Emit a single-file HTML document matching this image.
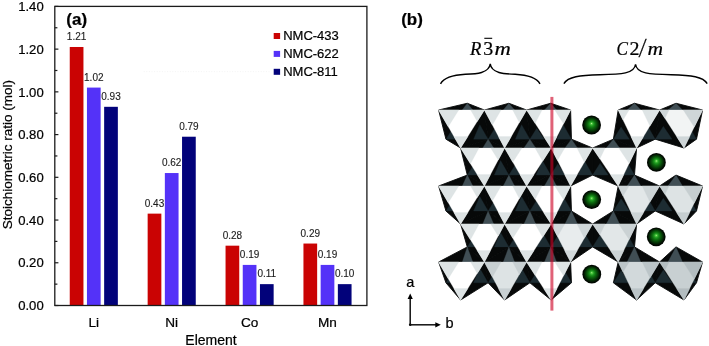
<!DOCTYPE html>
<html><head><meta charset="utf-8"><title>NMC figure</title>
<style>html,body{margin:0;padding:0;background:#fff;overflow:hidden}svg{display:block} text{stroke:#000;stroke-width:0.22px;paint-order:stroke} text.v{stroke:#222;stroke-width:0.12px}</style>
</head><body>
<svg width="709" height="346" viewBox="0 0 709 346"><defs><radialGradient id="gs" cx="0.5" cy="0.5" r="0.5" fx="0.5" fy="0.42">
<stop offset="0" stop-color="#c0f5a0"/><stop offset="0.08" stop-color="#56cc46"/><stop offset="0.22" stop-color="#1e9c20"/><stop offset="0.4" stop-color="#0e7010"/><stop offset="0.58" stop-color="#074a09"/><stop offset="0.75" stop-color="#032604"/><stop offset="0.88" stop-color="#010c01"/><stop offset="1" stop-color="#000200"/></radialGradient></defs>
<rect x="69.75" y="46.99" width="13.7" height="258.51" fill="#ca0303"/>
<text x="76.60" y="40.19" class="v" font-size="10" fill="#1a1a1a" text-anchor="middle" font-family="Liberation Sans, Arial, sans-serif">1.21</text>
<rect x="86.95" y="87.58" width="13.7" height="217.92" fill="#5432f8"/>
<text x="93.80" y="80.78" class="v" font-size="10" fill="#1a1a1a" text-anchor="middle" font-family="Liberation Sans, Arial, sans-serif">1.02</text>
<rect x="104.15" y="106.81" width="13.7" height="198.69" fill="#02027a"/>
<text x="111.00" y="100.01" class="v" font-size="10" fill="#1a1a1a" text-anchor="middle" font-family="Liberation Sans, Arial, sans-serif">0.93</text>
<text x="93.80" y="326.8" font-size="13.6" fill="#000" text-anchor="middle" font-family="Liberation Sans, Arial, sans-serif">Li</text>
<rect x="147.65" y="213.63" width="13.7" height="91.87" fill="#ca0303"/>
<text x="154.50" y="206.83" class="v" font-size="10" fill="#1a1a1a" text-anchor="middle" font-family="Liberation Sans, Arial, sans-serif">0.43</text>
<rect x="164.85" y="173.04" width="13.7" height="132.46" fill="#5432f8"/>
<text x="171.70" y="166.24" class="v" font-size="10" fill="#1a1a1a" text-anchor="middle" font-family="Liberation Sans, Arial, sans-serif">0.62</text>
<rect x="182.05" y="136.72" width="13.7" height="168.78" fill="#02027a"/>
<text x="188.90" y="129.92" class="v" font-size="10" fill="#1a1a1a" text-anchor="middle" font-family="Liberation Sans, Arial, sans-serif">0.79</text>
<text x="171.70" y="326.8" font-size="13.6" fill="#000" text-anchor="middle" font-family="Liberation Sans, Arial, sans-serif">Ni</text>
<rect x="225.55" y="245.68" width="13.7" height="59.82" fill="#ca0303"/>
<text x="232.40" y="238.88" class="v" font-size="10" fill="#1a1a1a" text-anchor="middle" font-family="Liberation Sans, Arial, sans-serif">0.28</text>
<rect x="242.75" y="264.91" width="13.7" height="40.59" fill="#5432f8"/>
<text x="249.60" y="258.11" class="v" font-size="10" fill="#1a1a1a" text-anchor="middle" font-family="Liberation Sans, Arial, sans-serif">0.19</text>
<rect x="259.95" y="284.14" width="13.7" height="21.36" fill="#02027a"/>
<text x="266.80" y="277.34" class="v" font-size="10" fill="#1a1a1a" text-anchor="middle" font-family="Liberation Sans, Arial, sans-serif">0.11</text>
<text x="249.60" y="326.8" font-size="13.6" fill="#000" text-anchor="middle" font-family="Liberation Sans, Arial, sans-serif">Co</text>
<rect x="303.45" y="243.54" width="13.7" height="61.96" fill="#ca0303"/>
<text x="310.30" y="236.74" class="v" font-size="10" fill="#1a1a1a" text-anchor="middle" font-family="Liberation Sans, Arial, sans-serif">0.29</text>
<rect x="320.65" y="264.91" width="13.7" height="40.59" fill="#5432f8"/>
<text x="327.50" y="258.11" class="v" font-size="10" fill="#1a1a1a" text-anchor="middle" font-family="Liberation Sans, Arial, sans-serif">0.19</text>
<rect x="337.85" y="284.14" width="13.7" height="21.36" fill="#02027a"/>
<text x="344.70" y="277.34" class="v" font-size="10" fill="#1a1a1a" text-anchor="middle" font-family="Liberation Sans, Arial, sans-serif">0.10</text>
<text x="327.50" y="326.8" font-size="13.6" fill="#000" text-anchor="middle" font-family="Liberation Sans, Arial, sans-serif">Mn</text>
<rect x="54.8" y="6.4" width="312.10" height="299.10" fill="none" stroke="#1b1b1b" stroke-width="1.3"/>
<line x1="54.8" y1="305.50" x2="58.4" y2="305.50" stroke="#1b1b1b" stroke-width="1.2"/>
<text x="43.7" y="310.20" font-size="13.1" fill="#000" text-anchor="end" font-family="Liberation Sans, Arial, sans-serif">0.00</text>
<line x1="54.8" y1="284.14" x2="57.4" y2="284.14" stroke="#1b1b1b" stroke-width="1.2"/>
<line x1="54.8" y1="262.77" x2="58.4" y2="262.77" stroke="#1b1b1b" stroke-width="1.2"/>
<text x="43.7" y="267.47" font-size="13.1" fill="#000" text-anchor="end" font-family="Liberation Sans, Arial, sans-serif">0.20</text>
<line x1="54.8" y1="241.41" x2="57.4" y2="241.41" stroke="#1b1b1b" stroke-width="1.2"/>
<line x1="54.8" y1="220.04" x2="58.4" y2="220.04" stroke="#1b1b1b" stroke-width="1.2"/>
<text x="43.7" y="224.74" font-size="13.1" fill="#000" text-anchor="end" font-family="Liberation Sans, Arial, sans-serif">0.40</text>
<line x1="54.8" y1="198.68" x2="57.4" y2="198.68" stroke="#1b1b1b" stroke-width="1.2"/>
<line x1="54.8" y1="177.31" x2="58.4" y2="177.31" stroke="#1b1b1b" stroke-width="1.2"/>
<text x="43.7" y="182.01" font-size="13.1" fill="#000" text-anchor="end" font-family="Liberation Sans, Arial, sans-serif">0.60</text>
<line x1="54.8" y1="155.95" x2="57.4" y2="155.95" stroke="#1b1b1b" stroke-width="1.2"/>
<line x1="54.8" y1="134.59" x2="58.4" y2="134.59" stroke="#1b1b1b" stroke-width="1.2"/>
<text x="43.7" y="139.29" font-size="13.1" fill="#000" text-anchor="end" font-family="Liberation Sans, Arial, sans-serif">0.80</text>
<line x1="54.8" y1="113.22" x2="57.4" y2="113.22" stroke="#1b1b1b" stroke-width="1.2"/>
<line x1="54.8" y1="91.86" x2="58.4" y2="91.86" stroke="#1b1b1b" stroke-width="1.2"/>
<text x="43.7" y="96.56" font-size="13.1" fill="#000" text-anchor="end" font-family="Liberation Sans, Arial, sans-serif">1.00</text>
<line x1="54.8" y1="70.49" x2="57.4" y2="70.49" stroke="#1b1b1b" stroke-width="1.2"/>
<line x1="54.8" y1="49.13" x2="58.4" y2="49.13" stroke="#1b1b1b" stroke-width="1.2"/>
<text x="43.7" y="53.83" font-size="13.1" fill="#000" text-anchor="end" font-family="Liberation Sans, Arial, sans-serif">1.20</text>
<line x1="54.8" y1="27.76" x2="57.4" y2="27.76" stroke="#1b1b1b" stroke-width="1.2"/>
<line x1="54.8" y1="6.40" x2="58.4" y2="6.40" stroke="#1b1b1b" stroke-width="1.2"/>
<text x="43.7" y="11.10" font-size="13.1" fill="#000" text-anchor="end" font-family="Liberation Sans, Arial, sans-serif">1.40</text>
<text x="211" y="345.0" font-size="14" fill="#000" text-anchor="middle" font-family="Liberation Sans, Arial, sans-serif">Element</text>
<text transform="translate(11.8,154.7) rotate(-90)" font-size="13.5" fill="#000" text-anchor="middle" font-family="Liberation Sans, Arial, sans-serif">Stoichiometric ratio (mol)</text>
<text x="66.3" y="25.4" font-size="17" font-weight="bold" fill="#000" font-family="Liberation Sans, Arial, sans-serif">(a)</text>
<line x1="143.7" y1="71.6" x2="270.7" y2="71.6" stroke="#f1f1f1" stroke-width="0.8" stroke-dasharray="1 1.6"/>
<rect x="273.7" y="33.00" width="6.4" height="6.0" fill="#ca0303"/>
<text x="283.2" y="39.80" font-size="13" fill="#000" font-family="Liberation Sans, Arial, sans-serif">NMC-433</text>
<rect x="273.7" y="50.90" width="6.4" height="6.0" fill="#5432f8"/>
<text x="283.2" y="57.70" font-size="13" fill="#000" font-family="Liberation Sans, Arial, sans-serif">NMC-622</text>
<rect x="273.7" y="68.80" width="6.4" height="6.0" fill="#02027a"/>
<text x="283.2" y="75.60" font-size="13" fill="#000" font-family="Liberation Sans, Arial, sans-serif">NMC-811</text>
<polygon points="438.60,110.00 467.29,103.25 484.40,110.00 488.08,139.17 460.60,148.00 445.94,139.17" fill="#070909" stroke="#070909" stroke-width="0.9" stroke-linejoin="round"/>
<polygon points="484.40,110.00 508.87,103.25 526.60,110.00 529.88,139.17 504.60,148.00 488.08,139.17" fill="#070909" stroke="#070909" stroke-width="0.9" stroke-linejoin="round"/>
<polygon points="526.60,110.00 550.67,103.25 570.60,110.00 571.46,139.17 551.10,148.00 529.88,139.17" fill="#070909" stroke="#070909" stroke-width="0.9" stroke-linejoin="round"/>
<polygon points="618.20,110.00 634.50,103.25 659.60,110.00 655.22,139.17 636.60,148.00 613.39,139.17" fill="#070909" stroke="#070909" stroke-width="0.9" stroke-linejoin="round"/>
<polygon points="659.60,110.00 676.01,103.25 702.60,110.00 696.49,139.17 684.00,148.00 655.22,139.17" fill="#070909" stroke="#070909" stroke-width="0.9" stroke-linejoin="round"/>
<polygon points="460.60,148.00 488.08,139.17 504.60,148.00 508.87,175.08 484.40,186.00 467.29,175.08" fill="#070909" stroke="#070909" stroke-width="0.9" stroke-linejoin="round"/>
<polygon points="504.60,148.00 529.88,139.17 551.10,148.00 550.67,175.08 526.60,186.00 508.87,175.08" fill="#070909" stroke="#070909" stroke-width="0.9" stroke-linejoin="round"/>
<polygon points="551.10,148.00 571.46,139.17 592.60,148.00 592.60,175.08 570.60,186.00 550.67,175.08" fill="#070909" stroke="#070909" stroke-width="0.9" stroke-linejoin="round"/>
<polygon points="592.60,148.00 613.39,139.17 636.60,148.00 634.50,175.08 618.20,186.00 592.60,175.08" fill="#070909" stroke="#070909" stroke-width="0.9" stroke-linejoin="round"/>
<polygon points="438.60,186.00 467.29,175.08 484.40,186.00 488.08,210.99 460.60,224.00 445.94,210.99" fill="#070909" stroke="#070909" stroke-width="0.9" stroke-linejoin="round"/>
<polygon points="484.40,186.00 508.87,175.08 526.60,186.00 529.88,210.99 504.60,224.00 488.08,210.99" fill="#070909" stroke="#070909" stroke-width="0.9" stroke-linejoin="round"/>
<polygon points="526.60,186.00 550.67,175.08 570.60,186.00 571.46,210.99 551.10,224.00 529.88,210.99" fill="#070909" stroke="#070909" stroke-width="0.9" stroke-linejoin="round"/>
<polygon points="618.20,186.00 634.50,175.08 659.60,186.00 655.22,210.99 636.60,224.00 613.39,210.99" fill="#070909" stroke="#070909" stroke-width="0.9" stroke-linejoin="round"/>
<polygon points="659.60,186.00 676.01,175.08 702.60,186.00 696.49,210.99 684.00,224.00 655.22,210.99" fill="#070909" stroke="#070909" stroke-width="0.9" stroke-linejoin="round"/>
<polygon points="460.60,224.00 488.08,210.99 504.60,224.00 508.87,246.90 484.40,262.00 467.29,246.90" fill="#070909" stroke="#070909" stroke-width="0.9" stroke-linejoin="round"/>
<polygon points="504.60,224.00 529.88,210.99 551.10,224.00 550.67,246.90 526.60,262.00 508.87,246.90" fill="#070909" stroke="#070909" stroke-width="0.9" stroke-linejoin="round"/>
<polygon points="551.10,224.00 571.46,210.99 592.60,224.00 592.60,246.90 570.60,262.00 550.67,246.90" fill="#070909" stroke="#070909" stroke-width="0.9" stroke-linejoin="round"/>
<polygon points="592.60,224.00 613.39,210.99 636.60,224.00 634.50,246.90 618.20,262.00 592.60,246.90" fill="#070909" stroke="#070909" stroke-width="0.9" stroke-linejoin="round"/>
<polygon points="438.60,262.00 467.29,246.90 484.40,262.00 488.08,282.80 460.60,300.00 445.94,282.80" fill="#070909" stroke="#070909" stroke-width="0.9" stroke-linejoin="round"/>
<polygon points="484.40,262.00 508.87,246.90 526.60,262.00 529.88,282.80 504.60,300.00 488.08,282.80" fill="#070909" stroke="#070909" stroke-width="0.9" stroke-linejoin="round"/>
<polygon points="526.60,262.00 550.67,246.90 570.60,262.00 571.46,282.80 551.10,300.00 529.88,282.80" fill="#070909" stroke="#070909" stroke-width="0.9" stroke-linejoin="round"/>
<polygon points="618.20,262.00 634.50,246.90 659.60,262.00 655.22,282.80 636.60,300.00 613.39,282.80" fill="#070909" stroke="#070909" stroke-width="0.9" stroke-linejoin="round"/>
<polygon points="659.60,262.00 676.01,246.90 702.60,262.00 696.49,282.80 684.00,300.00 655.22,282.80" fill="#070909" stroke="#070909" stroke-width="0.9" stroke-linejoin="round"/>
<polygon points="467.29,103.25 462.29,110.00 472.80,110.00" fill="#404e54" stroke="#404e54" stroke-width="0.3" stroke-linejoin="round"/>
<polygon points="445.94,139.17 458.45,139.17 451.94,129.66" fill="#1d2c32" stroke="#1d2c32" stroke-width="0.3" stroke-linejoin="round"/>
<polygon points="488.08,139.17 473.58,139.17 479.78,124.67" fill="#1d2c32" stroke="#1d2c32" stroke-width="0.3" stroke-linejoin="round"/>
<polygon points="438.60,110.00 484.40,110.00 460.60,148.00" fill="#ffffff" stroke="#ffffff" stroke-width="0.3" stroke-linejoin="round"/>
<polygon points="438.60,110.00 458.72,110.00 448.27,126.70" fill="#dee4e5" stroke="#dee4e5" stroke-width="0.3" stroke-linejoin="round"/>
<polygon points="484.40,110.00 470.64,110.00 477.25,121.42" fill="#dee4e5" stroke="#dee4e5" stroke-width="0.3" stroke-linejoin="round"/>
<polygon points="460.60,148.00 454.00,136.60 467.74,136.60" fill="#dee4e5" stroke="#dee4e5" stroke-width="0.3" stroke-linejoin="round"/>
<polygon points="508.87,103.25 503.27,110.00 514.58,110.00" fill="#404e54" stroke="#404e54" stroke-width="0.3" stroke-linejoin="round"/>
<polygon points="488.08,139.17 501.47,139.17 494.51,128.99" fill="#1d2c32" stroke="#1d2c32" stroke-width="0.3" stroke-linejoin="round"/>
<polygon points="529.88,139.17 515.38,139.17 521.58,124.67" fill="#1d2c32" stroke="#1d2c32" stroke-width="0.3" stroke-linejoin="round"/>
<polygon points="484.40,110.00 526.60,110.00 504.60,148.00" fill="#ffffff" stroke="#ffffff" stroke-width="0.3" stroke-linejoin="round"/>
<polygon points="484.40,110.00 501.09,110.00 492.39,125.03" fill="#dee4e5" stroke="#dee4e5" stroke-width="0.3" stroke-linejoin="round"/>
<polygon points="526.60,110.00 512.66,110.00 519.33,122.56" fill="#dee4e5" stroke="#dee4e5" stroke-width="0.3" stroke-linejoin="round"/>
<polygon points="504.60,148.00 498.54,136.60 511.20,136.60" fill="#dee4e5" stroke="#dee4e5" stroke-width="0.3" stroke-linejoin="round"/>
<polygon points="550.67,103.25 544.47,110.00 556.58,110.00" fill="#404e54" stroke="#404e54" stroke-width="0.3" stroke-linejoin="round"/>
<polygon points="529.88,139.17 544.15,139.17 536.73,128.33" fill="#1d2c32" stroke="#1d2c32" stroke-width="0.3" stroke-linejoin="round"/>
<polygon points="571.46,139.17 556.96,139.17 563.16,124.67" fill="#1d2c32" stroke="#1d2c32" stroke-width="0.3" stroke-linejoin="round"/>
<polygon points="526.60,110.00 570.60,110.00 551.10,148.00" fill="#ffffff" stroke="#ffffff" stroke-width="0.3" stroke-linejoin="round"/>
<polygon points="526.60,110.00 542.06,110.00 535.21,123.35" fill="#dee4e5" stroke="#dee4e5" stroke-width="0.3" stroke-linejoin="round"/>
<polygon points="570.60,110.00 554.74,110.00 563.57,123.70" fill="#dee4e5" stroke="#dee4e5" stroke-width="0.3" stroke-linejoin="round"/>
<polygon points="551.10,148.00 543.75,136.60 556.95,136.60" fill="#dee4e5" stroke="#dee4e5" stroke-width="0.3" stroke-linejoin="round"/>
<polygon points="634.50,103.25 627.09,110.00 640.80,110.00" fill="#404e54" stroke="#404e54" stroke-width="0.3" stroke-linejoin="round"/>
<polygon points="613.39,139.17 629.40,139.17 621.08,127.00" fill="#1d2c32" stroke="#1d2c32" stroke-width="0.3" stroke-linejoin="round"/>
<polygon points="655.22,139.17 640.72,139.17 646.92,124.67" fill="#1d2c32" stroke="#1d2c32" stroke-width="0.3" stroke-linejoin="round"/>
<polygon points="618.20,110.00 659.60,110.00 636.60,148.00" fill="#ffffff" stroke="#ffffff" stroke-width="0.3" stroke-linejoin="round"/>
<polygon points="618.20,110.00 629.10,110.00 623.05,120.01" fill="#dee4e5" stroke="#dee4e5" stroke-width="0.3" stroke-linejoin="round"/>
<polygon points="659.60,110.00 642.20,110.00 649.93,125.98" fill="#dee4e5" stroke="#dee4e5" stroke-width="0.3" stroke-linejoin="round"/>
<polygon points="636.60,148.00 631.08,136.60 643.50,136.60" fill="#dee4e5" stroke="#dee4e5" stroke-width="0.3" stroke-linejoin="round"/>
<polygon points="676.01,103.25 668.01,110.00 682.51,110.00" fill="#404e54" stroke="#404e54" stroke-width="0.3" stroke-linejoin="round"/>
<polygon points="655.22,139.17 672.10,139.17 663.32,126.34" fill="#1d2c32" stroke="#1d2c32" stroke-width="0.3" stroke-linejoin="round"/>
<polygon points="696.49,139.17 681.99,139.17 688.19,124.67" fill="#1d2c32" stroke="#1d2c32" stroke-width="0.3" stroke-linejoin="round"/>
<polygon points="659.60,110.00 702.60,110.00 684.00,148.00" fill="#f2f4f4" stroke="#f2f4f4" stroke-width="0.3" stroke-linejoin="round"/>
<polygon points="659.60,110.00 669.06,110.00 664.97,118.36" fill="#cfd6d8" stroke="#cfd6d8" stroke-width="0.3" stroke-linejoin="round"/>
<polygon points="702.60,110.00 683.25,110.00 694.23,127.10" fill="#cfd6d8" stroke="#cfd6d8" stroke-width="0.3" stroke-linejoin="round"/>
<polygon points="684.00,148.00 676.68,136.60 689.58,136.60" fill="#cfd6d8" stroke="#cfd6d8" stroke-width="0.3" stroke-linejoin="round"/>
<polygon points="488.08,139.17 482.78,148.00 493.69,148.00" fill="#404e54" stroke="#404e54" stroke-width="0.3" stroke-linejoin="round"/>
<polygon points="467.29,175.08 480.24,175.08 473.51,165.23" fill="#1d2c32" stroke="#1d2c32" stroke-width="0.3" stroke-linejoin="round"/>
<polygon points="508.87,175.08 494.37,175.08 500.57,160.58" fill="#1d2c32" stroke="#1d2c32" stroke-width="0.3" stroke-linejoin="round"/>
<polygon points="460.60,148.00 504.60,148.00 484.40,186.00" fill="#ffffff" stroke="#ffffff" stroke-width="0.3" stroke-linejoin="round"/>
<polygon points="460.60,148.00 478.97,148.00 470.53,163.86" fill="#dee4e5" stroke="#dee4e5" stroke-width="0.3" stroke-linejoin="round"/>
<polygon points="504.60,148.00 490.72,148.00 498.23,159.99" fill="#dee4e5" stroke="#dee4e5" stroke-width="0.3" stroke-linejoin="round"/>
<polygon points="484.40,186.00 477.26,174.60 490.46,174.60" fill="#dee4e5" stroke="#dee4e5" stroke-width="0.3" stroke-linejoin="round"/>
<polygon points="529.88,139.17 523.98,148.00 535.69,148.00" fill="#404e54" stroke="#404e54" stroke-width="0.3" stroke-linejoin="round"/>
<polygon points="508.87,175.08 522.70,175.08 515.51,164.57" fill="#1d2c32" stroke="#1d2c32" stroke-width="0.3" stroke-linejoin="round"/>
<polygon points="550.67,175.08 536.17,175.08 542.37,160.58" fill="#1d2c32" stroke="#1d2c32" stroke-width="0.3" stroke-linejoin="round"/>
<polygon points="504.60,148.00 551.10,148.00 526.60,186.00" fill="#ffffff" stroke="#ffffff" stroke-width="0.3" stroke-linejoin="round"/>
<polygon points="504.60,148.00 521.96,148.00 512.81,162.19" fill="#dee4e5" stroke="#dee4e5" stroke-width="0.3" stroke-linejoin="round"/>
<polygon points="551.10,148.00 535.04,148.00 542.64,161.13" fill="#dee4e5" stroke="#dee4e5" stroke-width="0.3" stroke-linejoin="round"/>
<polygon points="526.60,186.00 520.00,174.60 533.95,174.60" fill="#dee4e5" stroke="#dee4e5" stroke-width="0.3" stroke-linejoin="round"/>
<polygon points="571.46,139.17 564.96,148.00 577.47,148.00" fill="#404e54" stroke="#404e54" stroke-width="0.3" stroke-linejoin="round"/>
<polygon points="550.67,175.08 565.37,175.08 557.73,163.90" fill="#1d2c32" stroke="#1d2c32" stroke-width="0.3" stroke-linejoin="round"/>
<polygon points="592.60,175.08 578.10,175.08 584.30,160.58" fill="#1d2c32" stroke="#1d2c32" stroke-width="0.3" stroke-linejoin="round"/>
<polygon points="551.10,148.00 592.60,148.00 570.60,186.00" fill="#ffffff" stroke="#ffffff" stroke-width="0.3" stroke-linejoin="round"/>
<polygon points="551.10,148.00 564.77,148.00 557.52,160.52" fill="#dee4e5" stroke="#dee4e5" stroke-width="0.3" stroke-linejoin="round"/>
<polygon points="592.60,148.00 577.02,148.00 584.34,162.27" fill="#dee4e5" stroke="#dee4e5" stroke-width="0.3" stroke-linejoin="round"/>
<polygon points="570.60,186.00 564.75,174.60 577.20,174.60" fill="#dee4e5" stroke="#dee4e5" stroke-width="0.3" stroke-linejoin="round"/>
<polygon points="613.39,139.17 606.28,148.00 619.59,148.00" fill="#404e54" stroke="#404e54" stroke-width="0.3" stroke-linejoin="round"/>
<polygon points="592.60,175.08 608.18,175.08 600.08,163.24" fill="#1d2c32" stroke="#1d2c32" stroke-width="0.3" stroke-linejoin="round"/>
<polygon points="634.50,175.08 620.00,175.08 626.20,160.58" fill="#1d2c32" stroke="#1d2c32" stroke-width="0.3" stroke-linejoin="round"/>
<polygon points="592.60,148.00 636.60,148.00 618.20,186.00" fill="#ffffff" stroke="#ffffff" stroke-width="0.3" stroke-linejoin="round"/>
<polygon points="592.60,148.00 605.16,148.00 599.91,158.85" fill="#dee4e5" stroke="#dee4e5" stroke-width="0.3" stroke-linejoin="round"/>
<polygon points="636.60,148.00 618.76,148.00 629.14,163.41" fill="#dee4e5" stroke="#dee4e5" stroke-width="0.3" stroke-linejoin="round"/>
<polygon points="618.20,186.00 610.52,174.60 623.72,174.60" fill="#dee4e5" stroke="#dee4e5" stroke-width="0.3" stroke-linejoin="round"/>
<polygon points="467.29,175.08 462.29,186.00 472.80,186.00" fill="#404e54" stroke="#404e54" stroke-width="0.3" stroke-linejoin="round"/>
<polygon points="445.94,210.99 458.45,210.99 451.94,201.48" fill="#1d2c32" stroke="#1d2c32" stroke-width="0.3" stroke-linejoin="round"/>
<polygon points="488.08,210.99 473.58,210.99 479.78,196.49" fill="#1d2c32" stroke="#1d2c32" stroke-width="0.3" stroke-linejoin="round"/>
<polygon points="438.60,186.00 484.40,186.00 460.60,224.00" fill="#ffffff" stroke="#ffffff" stroke-width="0.3" stroke-linejoin="round"/>
<polygon points="438.60,186.00 458.72,186.00 448.27,202.70" fill="#dee4e5" stroke="#dee4e5" stroke-width="0.3" stroke-linejoin="round"/>
<polygon points="484.40,186.00 470.64,186.00 477.25,197.42" fill="#dee4e5" stroke="#dee4e5" stroke-width="0.3" stroke-linejoin="round"/>
<polygon points="460.60,224.00 454.00,212.60 467.74,212.60" fill="#dee4e5" stroke="#dee4e5" stroke-width="0.3" stroke-linejoin="round"/>
<polygon points="508.87,175.08 503.27,186.00 514.58,186.00" fill="#404e54" stroke="#404e54" stroke-width="0.3" stroke-linejoin="round"/>
<polygon points="488.08,210.99 501.47,210.99 494.51,200.81" fill="#1d2c32" stroke="#1d2c32" stroke-width="0.3" stroke-linejoin="round"/>
<polygon points="529.88,210.99 515.38,210.99 521.58,196.49" fill="#1d2c32" stroke="#1d2c32" stroke-width="0.3" stroke-linejoin="round"/>
<polygon points="484.40,186.00 526.60,186.00 504.60,224.00" fill="#ffffff" stroke="#ffffff" stroke-width="0.3" stroke-linejoin="round"/>
<polygon points="484.40,186.00 501.09,186.00 492.39,201.03" fill="#dee4e5" stroke="#dee4e5" stroke-width="0.3" stroke-linejoin="round"/>
<polygon points="526.60,186.00 512.66,186.00 519.33,198.56" fill="#dee4e5" stroke="#dee4e5" stroke-width="0.3" stroke-linejoin="round"/>
<polygon points="504.60,224.00 498.54,212.60 511.20,212.60" fill="#dee4e5" stroke="#dee4e5" stroke-width="0.3" stroke-linejoin="round"/>
<polygon points="550.67,175.08 544.47,186.00 556.58,186.00" fill="#404e54" stroke="#404e54" stroke-width="0.3" stroke-linejoin="round"/>
<polygon points="529.88,210.99 544.15,210.99 536.73,200.15" fill="#1d2c32" stroke="#1d2c32" stroke-width="0.3" stroke-linejoin="round"/>
<polygon points="571.46,210.99 556.96,210.99 563.16,196.49" fill="#1d2c32" stroke="#1d2c32" stroke-width="0.3" stroke-linejoin="round"/>
<polygon points="526.60,186.00 570.60,186.00 551.10,224.00" fill="#ffffff" stroke="#ffffff" stroke-width="0.3" stroke-linejoin="round"/>
<polygon points="526.60,186.00 542.06,186.00 535.21,199.35" fill="#dee4e5" stroke="#dee4e5" stroke-width="0.3" stroke-linejoin="round"/>
<polygon points="570.60,186.00 554.74,186.00 563.57,199.70" fill="#dee4e5" stroke="#dee4e5" stroke-width="0.3" stroke-linejoin="round"/>
<polygon points="551.10,224.00 543.75,212.60 556.95,212.60" fill="#dee4e5" stroke="#dee4e5" stroke-width="0.3" stroke-linejoin="round"/>
<polygon points="634.50,175.08 627.09,186.00 640.80,186.00" fill="#404e54" stroke="#404e54" stroke-width="0.3" stroke-linejoin="round"/>
<polygon points="613.39,210.99 629.40,210.99 621.08,198.82" fill="#1d2c32" stroke="#1d2c32" stroke-width="0.3" stroke-linejoin="round"/>
<polygon points="655.22,210.99 640.72,210.99 646.92,196.49" fill="#1d2c32" stroke="#1d2c32" stroke-width="0.3" stroke-linejoin="round"/>
<polygon points="618.20,186.00 659.60,186.00 636.60,224.00" fill="#e2e7e8" stroke="#e2e7e8" stroke-width="0.3" stroke-linejoin="round"/>
<polygon points="618.20,186.00 629.10,186.00 623.05,196.01" fill="#cdd4d6" stroke="#cdd4d6" stroke-width="0.3" stroke-linejoin="round"/>
<polygon points="659.60,186.00 642.20,186.00 649.93,201.98" fill="#cdd4d6" stroke="#cdd4d6" stroke-width="0.3" stroke-linejoin="round"/>
<polygon points="636.60,224.00 631.08,212.60 643.50,212.60" fill="#cdd4d6" stroke="#cdd4d6" stroke-width="0.3" stroke-linejoin="round"/>
<polygon points="676.01,175.08 668.01,186.00 682.51,186.00" fill="#404e54" stroke="#404e54" stroke-width="0.3" stroke-linejoin="round"/>
<polygon points="655.22,210.99 672.10,210.99 663.32,198.16" fill="#1d2c32" stroke="#1d2c32" stroke-width="0.3" stroke-linejoin="round"/>
<polygon points="696.49,210.99 681.99,210.99 688.19,196.49" fill="#1d2c32" stroke="#1d2c32" stroke-width="0.3" stroke-linejoin="round"/>
<polygon points="659.60,186.00 702.60,186.00 684.00,224.00" fill="#dde3e4" stroke="#dde3e4" stroke-width="0.3" stroke-linejoin="round"/>
<polygon points="659.60,186.00 669.06,186.00 664.97,194.36" fill="#c6ced0" stroke="#c6ced0" stroke-width="0.3" stroke-linejoin="round"/>
<polygon points="702.60,186.00 683.25,186.00 694.23,203.10" fill="#c6ced0" stroke="#c6ced0" stroke-width="0.3" stroke-linejoin="round"/>
<polygon points="684.00,224.00 676.68,212.60 689.58,212.60" fill="#c6ced0" stroke="#c6ced0" stroke-width="0.3" stroke-linejoin="round"/>
<polygon points="488.08,210.99 482.78,224.00 493.69,224.00" fill="#404e54" stroke="#404e54" stroke-width="0.3" stroke-linejoin="round"/>
<polygon points="467.29,246.90 480.24,246.90 473.51,237.05" fill="#1d2c32" stroke="#1d2c32" stroke-width="0.3" stroke-linejoin="round"/>
<polygon points="508.87,246.90 494.37,246.90 500.57,232.40" fill="#1d2c32" stroke="#1d2c32" stroke-width="0.3" stroke-linejoin="round"/>
<polygon points="460.60,224.00 504.60,224.00 484.40,262.00" fill="#ffffff" stroke="#ffffff" stroke-width="0.3" stroke-linejoin="round"/>
<polygon points="460.60,224.00 478.97,224.00 470.53,239.86" fill="#dee4e5" stroke="#dee4e5" stroke-width="0.3" stroke-linejoin="round"/>
<polygon points="504.60,224.00 490.72,224.00 498.23,235.99" fill="#dee4e5" stroke="#dee4e5" stroke-width="0.3" stroke-linejoin="round"/>
<polygon points="484.40,262.00 477.26,250.60 490.46,250.60" fill="#dee4e5" stroke="#dee4e5" stroke-width="0.3" stroke-linejoin="round"/>
<polygon points="529.88,210.99 523.98,224.00 535.69,224.00" fill="#404e54" stroke="#404e54" stroke-width="0.3" stroke-linejoin="round"/>
<polygon points="508.87,246.90 522.70,246.90 515.51,236.39" fill="#1d2c32" stroke="#1d2c32" stroke-width="0.3" stroke-linejoin="round"/>
<polygon points="550.67,246.90 536.17,246.90 542.37,232.40" fill="#1d2c32" stroke="#1d2c32" stroke-width="0.3" stroke-linejoin="round"/>
<polygon points="504.60,224.00 551.10,224.00 526.60,262.00" fill="#ffffff" stroke="#ffffff" stroke-width="0.3" stroke-linejoin="round"/>
<polygon points="504.60,224.00 521.96,224.00 512.81,238.19" fill="#dee4e5" stroke="#dee4e5" stroke-width="0.3" stroke-linejoin="round"/>
<polygon points="551.10,224.00 535.04,224.00 542.64,237.13" fill="#dee4e5" stroke="#dee4e5" stroke-width="0.3" stroke-linejoin="round"/>
<polygon points="526.60,262.00 520.00,250.60 533.95,250.60" fill="#dee4e5" stroke="#dee4e5" stroke-width="0.3" stroke-linejoin="round"/>
<polygon points="571.46,210.99 564.96,224.00 577.47,224.00" fill="#404e54" stroke="#404e54" stroke-width="0.3" stroke-linejoin="round"/>
<polygon points="550.67,246.90 565.37,246.90 557.73,235.72" fill="#1d2c32" stroke="#1d2c32" stroke-width="0.3" stroke-linejoin="round"/>
<polygon points="592.60,246.90 578.10,246.90 584.30,232.40" fill="#1d2c32" stroke="#1d2c32" stroke-width="0.3" stroke-linejoin="round"/>
<polygon points="551.10,224.00 592.60,224.00 570.60,262.00" fill="#e8eced" stroke="#e8eced" stroke-width="0.3" stroke-linejoin="round"/>
<polygon points="551.10,224.00 564.77,224.00 557.52,236.52" fill="#d0d7d9" stroke="#d0d7d9" stroke-width="0.3" stroke-linejoin="round"/>
<polygon points="592.60,224.00 577.02,224.00 584.34,238.27" fill="#d0d7d9" stroke="#d0d7d9" stroke-width="0.3" stroke-linejoin="round"/>
<polygon points="570.60,262.00 564.75,250.60 577.20,250.60" fill="#d0d7d9" stroke="#d0d7d9" stroke-width="0.3" stroke-linejoin="round"/>
<polygon points="613.39,210.99 606.28,224.00 619.59,224.00" fill="#404e54" stroke="#404e54" stroke-width="0.3" stroke-linejoin="round"/>
<polygon points="592.60,246.90 608.18,246.90 600.08,235.06" fill="#1d2c32" stroke="#1d2c32" stroke-width="0.3" stroke-linejoin="round"/>
<polygon points="634.50,246.90 620.00,246.90 626.20,232.40" fill="#1d2c32" stroke="#1d2c32" stroke-width="0.3" stroke-linejoin="round"/>
<polygon points="592.60,224.00 636.60,224.00 618.20,262.00" fill="#e2e7e8" stroke="#e2e7e8" stroke-width="0.3" stroke-linejoin="round"/>
<polygon points="592.60,224.00 605.16,224.00 599.91,234.85" fill="#cbd2d4" stroke="#cbd2d4" stroke-width="0.3" stroke-linejoin="round"/>
<polygon points="636.60,224.00 618.76,224.00 629.14,239.41" fill="#cbd2d4" stroke="#cbd2d4" stroke-width="0.3" stroke-linejoin="round"/>
<polygon points="618.20,262.00 610.52,250.60 623.72,250.60" fill="#cbd2d4" stroke="#cbd2d4" stroke-width="0.3" stroke-linejoin="round"/>
<polygon points="467.29,246.90 462.29,262.00 472.80,262.00" fill="#404e54" stroke="#404e54" stroke-width="0.3" stroke-linejoin="round"/>
<polygon points="445.94,282.80 458.45,282.80 451.94,273.30" fill="#1d2c32" stroke="#1d2c32" stroke-width="0.3" stroke-linejoin="round"/>
<polygon points="488.08,282.80 473.58,282.80 479.78,268.30" fill="#1d2c32" stroke="#1d2c32" stroke-width="0.3" stroke-linejoin="round"/>
<polygon points="438.60,262.00 484.40,262.00 460.60,300.00" fill="#ffffff" stroke="#ffffff" stroke-width="0.3" stroke-linejoin="round"/>
<polygon points="438.60,262.00 458.72,262.00 448.27,278.70" fill="#dee4e5" stroke="#dee4e5" stroke-width="0.3" stroke-linejoin="round"/>
<polygon points="484.40,262.00 470.64,262.00 477.25,273.42" fill="#dee4e5" stroke="#dee4e5" stroke-width="0.3" stroke-linejoin="round"/>
<polygon points="460.60,300.00 454.00,288.60 467.74,288.60" fill="#dee4e5" stroke="#dee4e5" stroke-width="0.3" stroke-linejoin="round"/>
<polygon points="508.87,246.90 503.27,262.00 514.58,262.00" fill="#404e54" stroke="#404e54" stroke-width="0.3" stroke-linejoin="round"/>
<polygon points="488.08,282.80 501.47,282.80 494.51,272.63" fill="#1d2c32" stroke="#1d2c32" stroke-width="0.3" stroke-linejoin="round"/>
<polygon points="529.88,282.80 515.38,282.80 521.58,268.30" fill="#1d2c32" stroke="#1d2c32" stroke-width="0.3" stroke-linejoin="round"/>
<polygon points="484.40,262.00 526.60,262.00 504.60,300.00" fill="#dde3e4" stroke="#dde3e4" stroke-width="0.3" stroke-linejoin="round"/>
<polygon points="484.40,262.00 501.09,262.00 492.39,277.03" fill="#c8d0d2" stroke="#c8d0d2" stroke-width="0.3" stroke-linejoin="round"/>
<polygon points="526.60,262.00 512.66,262.00 519.33,274.56" fill="#c8d0d2" stroke="#c8d0d2" stroke-width="0.3" stroke-linejoin="round"/>
<polygon points="504.60,300.00 498.54,288.60 511.20,288.60" fill="#c8d0d2" stroke="#c8d0d2" stroke-width="0.3" stroke-linejoin="round"/>
<polygon points="550.67,246.90 544.47,262.00 556.58,262.00" fill="#404e54" stroke="#404e54" stroke-width="0.3" stroke-linejoin="round"/>
<polygon points="529.88,282.80 544.15,282.80 536.73,271.97" fill="#1d2c32" stroke="#1d2c32" stroke-width="0.3" stroke-linejoin="round"/>
<polygon points="571.46,282.80 556.96,282.80 563.16,268.30" fill="#1d2c32" stroke="#1d2c32" stroke-width="0.3" stroke-linejoin="round"/>
<polygon points="526.60,262.00 570.60,262.00 551.10,300.00" fill="#ffffff" stroke="#ffffff" stroke-width="0.3" stroke-linejoin="round"/>
<polygon points="526.60,262.00 542.06,262.00 535.21,275.35" fill="#dee4e5" stroke="#dee4e5" stroke-width="0.3" stroke-linejoin="round"/>
<polygon points="570.60,262.00 554.74,262.00 563.57,275.70" fill="#dee4e5" stroke="#dee4e5" stroke-width="0.3" stroke-linejoin="round"/>
<polygon points="551.10,300.00 543.75,288.60 556.95,288.60" fill="#dee4e5" stroke="#dee4e5" stroke-width="0.3" stroke-linejoin="round"/>
<polygon points="634.50,246.90 627.09,262.00 640.80,262.00" fill="#404e54" stroke="#404e54" stroke-width="0.3" stroke-linejoin="round"/>
<polygon points="613.39,282.80 629.40,282.80 621.08,270.64" fill="#1d2c32" stroke="#1d2c32" stroke-width="0.3" stroke-linejoin="round"/>
<polygon points="655.22,282.80 640.72,282.80 646.92,268.30" fill="#1d2c32" stroke="#1d2c32" stroke-width="0.3" stroke-linejoin="round"/>
<polygon points="618.20,262.00 659.60,262.00 636.60,300.00" fill="#d2d9db" stroke="#d2d9db" stroke-width="0.3" stroke-linejoin="round"/>
<polygon points="618.20,262.00 629.10,262.00 623.05,272.01" fill="#bcc5c8" stroke="#bcc5c8" stroke-width="0.3" stroke-linejoin="round"/>
<polygon points="659.60,262.00 642.20,262.00 649.93,277.98" fill="#bcc5c8" stroke="#bcc5c8" stroke-width="0.3" stroke-linejoin="round"/>
<polygon points="636.60,300.00 631.08,288.60 643.50,288.60" fill="#bcc5c8" stroke="#bcc5c8" stroke-width="0.3" stroke-linejoin="round"/>
<polygon points="676.01,246.90 668.01,262.00 682.51,262.00" fill="#404e54" stroke="#404e54" stroke-width="0.3" stroke-linejoin="round"/>
<polygon points="655.22,282.80 672.10,282.80 663.32,269.98" fill="#1d2c32" stroke="#1d2c32" stroke-width="0.3" stroke-linejoin="round"/>
<polygon points="696.49,282.80 681.99,282.80 688.19,268.30" fill="#1d2c32" stroke="#1d2c32" stroke-width="0.3" stroke-linejoin="round"/>
<polygon points="659.60,262.00 702.60,262.00 684.00,300.00" fill="#c8d0d2" stroke="#c8d0d2" stroke-width="0.3" stroke-linejoin="round"/>
<polygon points="659.60,262.00 669.06,262.00 664.97,270.36" fill="#b3bdc0" stroke="#b3bdc0" stroke-width="0.3" stroke-linejoin="round"/>
<polygon points="702.60,262.00 683.25,262.00 694.23,279.10" fill="#b3bdc0" stroke="#b3bdc0" stroke-width="0.3" stroke-linejoin="round"/>
<polygon points="684.00,300.00 676.68,288.60 689.58,288.60" fill="#b3bdc0" stroke="#b3bdc0" stroke-width="0.3" stroke-linejoin="round"/>
<circle cx="591.60" cy="125.00" r="9.4" fill="url(#gs)"/>
<circle cx="656.40" cy="162.40" r="9.4" fill="url(#gs)"/>
<circle cx="591.70" cy="199.60" r="9.4" fill="url(#gs)"/>
<circle cx="656.20" cy="236.80" r="9.4" fill="url(#gs)"/>
<circle cx="591.80" cy="274.20" r="9.4" fill="url(#gs)"/>
<rect x="550.4" y="96.9" width="3.0" height="213.7" fill="rgba(205,0,35,0.62)"/>
<text x="401.2" y="25.0" font-size="17" font-weight="bold" fill="#000" font-family="Liberation Sans, Arial, sans-serif">(b)</text>
<text transform="translate(470.0,54.8) scale(0.93,0.92)" font-size="20" font-style="italic" fill="#000" font-family="Liberation Serif, serif">R</text>
<text transform="translate(483.2,54.8) scale(1.0,0.92)" font-size="20" fill="#000" font-family="Liberation Serif, serif">3</text>
<text transform="translate(494.6,54.8) scale(1.13,0.92)" font-size="20" font-style="italic" fill="#000" font-family="Liberation Serif, serif">m</text>
<line x1="484.3" y1="38.3" x2="492.2" y2="38.3" stroke="#000" stroke-width="1.1"/>
<text transform="translate(616.6,54.6) scale(0.86,0.92)" font-size="20" font-style="italic" fill="#000" font-family="Liberation Serif, serif">C</text>
<text transform="translate(629.4,54.6) scale(1.0,0.92)" font-size="20" fill="#000" font-family="Liberation Serif, serif">2</text>
<text transform="translate(639.6,56.6) scale(1.0,1.36)" font-size="20" font-style="italic" fill="#000" font-family="Liberation Serif, serif">/</text>
<text transform="translate(647.6,54.6) scale(1.08,0.92)" font-size="20" font-style="italic" fill="#000" font-family="Liberation Serif, serif">m</text>
<path d="M440.5,83.8 C444.5,76.8 456.5,74.8 465.375,74.3 C476.25,73.89999999999999 489.25,73.3 490.25,63.8 C491.25,73.3 504.25,73.89999999999999 515.125,74.3 C524.0,74.8 536.0,76.8 540.0,83.8" fill="none" stroke="#000" stroke-width="1.4"/>
<path d="M563.9,83.6 C567.9,76.6 579.9,75.2 599.7249999999999,74.7 C621.55,74.3 634.55,73.7 635.55,64.2 C636.55,73.7 649.55,74.3 671.375,74.7 C691.2,75.2 703.2,76.6 707.2,83.6" fill="none" stroke="#000" stroke-width="1.4"/>
<circle cx="410.2" cy="324.8" r="1.3" fill="#000"/>
<line x1="410.2" y1="324.8" x2="410.2" y2="297" stroke="#111" stroke-width="1.5"/>
<polygon points="410.2,293.5 407.6,299 412.8,299" fill="#000"/>
<line x1="410.2" y1="324.8" x2="437" y2="324.8" stroke="#111" stroke-width="1.5"/>
<polygon points="440.8,324.8 435.3,322.2 435.3,327.4" fill="#000"/>
<text x="410.2" y="287.3" font-size="14.5" fill="#000" text-anchor="middle" font-family="Liberation Sans, Arial, sans-serif">a</text>
<text x="445.6" y="328.3" font-size="14.5" fill="#000" font-family="Liberation Sans, Arial, sans-serif">b</text>
</svg>
</body></html>
